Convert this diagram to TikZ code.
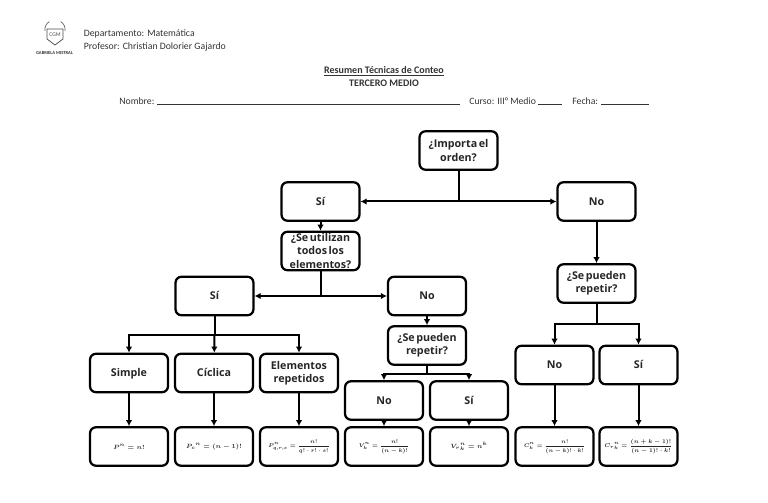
\documentclass[tikz,border=0pt]{standalone}
\usepackage{amsmath}
\usepackage{fontspec}
\setmainfont{Carlito}
\newfontfamily\boxfont[WordSpace=0.55]{Open Sans}
\usetikzlibrary{calc,arrows.meta}
\tikzset{
	optbox/.style={draw, line width=0.45mm, rounded corners=1.2mm, minimum width=1.56cm, minimum height=0.77cm, align=center, inner sep=0pt, font=\boxfont\bfseries\fontsize{6.1}{7.6}\selectfont, text=black!85},
	oneline/.style={optbox, text height=4.2pt, text depth=0pt},
	formbox/.style={optbox},
	link/.style={line width=0.4mm, -{Latex[length=1.2mm,width=1.3mm]}},
	linkboth/.style={line width=0.4mm, {Latex[length=1.2mm,width=1.3mm]}-{Latex[length=1.2mm,width=1.3mm]}},
	plain/.style={line width=0.4mm},
	head/.style={font=\fontsize{5.55}{7}\selectfont, text=black!80, inner sep=0pt},
}
\newcommand{\fillline}[1]{\rule[-0.35pt]{#1}{0.35pt}}
\newcommand{\formula}[2][0.58]{\scalebox{#1}{\boldmath$\displaystyle #2$}}
\begin{document}
\begin{tikzpicture}[x=0.02cm, y=-0.02cm]
			%%%%% HEADER %%%%%
			\useasboundingbox (0, 0) rectangle (768, 503);
			
			% crest
			\draw[line width=0.15mm, black!70] (47, 29) -- (63, 29) -- (63, 39) -- (55, 45) -- (47, 39) -- cycle;
			\draw[line width=0.15mm, black!60] (45, 31) arc (170:240:9);
			\draw[line width=0.15mm, black!60] (65, 31) arc (10:-60:9);
			\node[inner sep=0pt, font=\fontsize{3.2}{3}\selectfont, text=black!70] (crest) at (55, 35) {CGM};
			\node[inner sep=0pt, font=\bfseries\fontsize{2.6}{3}\selectfont, text=black!80] (school) at (54.5, 53.5) {GABRIELA MISTRAL};
			
			\node[head, anchor=base west] (dept) at (83.5, 37) {Departamento: Matemática};
			\node[head, anchor=base west] (prof) at (83.5, 49.5) {Profesor: Christian Dolorier Gajardo};
			\node[head, font=\bfseries\fontsize{5.7}{7}\selectfont] (title) at (384, 71.5) {\underline{Resumen Técnicas de Conteo}};
			\node[head, font=\bfseries\fontsize{5.7}{7}\selectfont] (level) at (384, 83) {TERCERO MEDIO};
			\node[head, anchor=base west] (name) at (119, 104.5) {Nombre: \fillline{172pt}};
			\node[head, anchor=base west] (course) at (469, 104.5) {Curso: III° Medio \fillline{13.5pt}};
			\node[head, anchor=base west] (date) at (572, 104.5) {Fecha: \fillline{27.5pt}};
			
			%%%%% BOXES %%%%%
			\node[optbox] (order) at (458.5, 150.5) {¿Importa el\\orden?};
			\node[oneline] (yes) at (320.5, 201.5) {Sí};
			\node[oneline] (no) at (596.5, 201.5) {No};
			\node[optbox] (all) at (320.5, 251) {¿Se utilizan\\todos los\\elementos?};
			\node[oneline] (yesall) at (214.5, 296) {Sí};
			\node[oneline] (noall) at (427, 296) {No};
			\node[optbox] (repleft) at (427, 345.5) {¿Se pueden\\repetir?};
			\node[optbox] (repright) at (596.5, 283.5) {¿Se pueden\\repetir?};
			
			\node[oneline] (simple) at (129, 373) {Simple};
			\node[oneline] (cyclic) at (214, 373) {Cíclica};
			\node[optbox] (multi) at (299, 373) {Elementos\\repetidos};
			\node[oneline] (novar) at (384, 400.5) {No};
			\node[oneline] (yesvar) at (469, 400.5) {Sí};
			\node[oneline] (nocomb) at (554.5, 365) {No};
			\node[oneline] (yescomb) at (638.5, 365) {Sí};
			
			%%%%% FORMULAS %%%%%
			\node[formbox] (fsimple) at (129, 446.5) {\formula{P^{n}=n!}};
			\node[formbox] (fcyclic) at (214, 446.5) {\formula{P_{c}{}^{n}=(n-1)!}};
			\node[formbox] (fmulti) at (299, 446.5) {\formula[0.52]{P^{n}_{q,r,s}=\frac{n!}{q!\cdot r!\cdot s!}}};
			\node[formbox] (fnovar) at (384, 446.5) {\formula[0.52]{V^{n}_{k}=\frac{n!}{(n-k)!}}};
			\node[formbox] (fyesvar) at (469, 446.5) {\formula{V_{r}{}^{n}_{k}=n^{k}}};
			\node[formbox] (fnocomb) at (554.5, 446.5) {\formula[0.51]{C^{n}_{k}=\frac{n!}{(n-k)!\cdot k!}}};
			\node[formbox] (fyescomb) at (638.5, 446.5) {\formula[0.53]{C_{r}{}^{n}_{k}=\frac{(n+k-1)!}{(n-1)!\cdot k!}}};
			
			%%%%% LINKS %%%%%
			\draw[linkboth] (yes) -- (no);
			\draw[plain] (order) -- (order |- yes);
			\draw[link] (yes) -- (all);
			\draw[link] (no) -- (repright);
			
			\draw[linkboth] (yesall) -- (noall);
			\draw[plain] (all) -- (all |- yesall);
			\draw[link] (noall) -- (repleft);
			
			\coordinate (split) at ($(yesall.south)+(0, 19)$);
			\draw[plain] (yesall) -- (split);
			\draw[link] (split) -- (cyclic);
			\draw[link] (split) -| (simple);
			\draw[link] (split) -| (multi);
			
			\coordinate (splitvar) at ($(repleft.south)+(0, 8)$);
			\draw[plain] (repleft) -- (splitvar);
			\draw[link] (splitvar) -| (novar);
			\draw[link] (splitvar) -| (yesvar);
			
			\coordinate (splitcomb) at ($(repright.south)+(0, 20)$);
			\draw[plain] (repright) -- (splitcomb);
			\draw[link] (splitcomb) -| (nocomb);
			\draw[link] (splitcomb) -| (yescomb);
			
			\draw[link] (simple) -- (fsimple);
			\draw[link] (cyclic) -- (fcyclic);
			\draw[link] (multi) -- (fmulti);
			\draw[link] (novar) -- (fnovar);
			\draw[link] (yesvar) -- (fyesvar);
			\draw[link] (nocomb) -- (fnocomb);
			\draw[link] (yescomb) -- (fyescomb);
		\end{tikzpicture}
\end{document}
